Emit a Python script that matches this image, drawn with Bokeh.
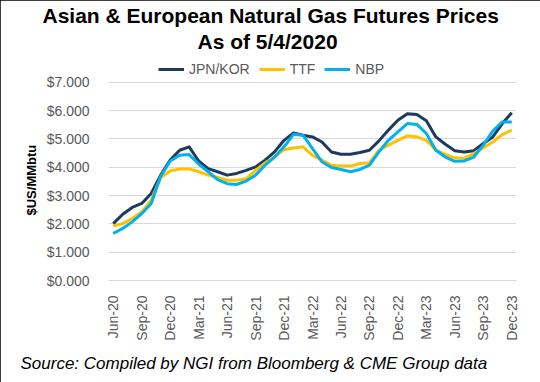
import math
from bokeh.plotting import figure
from bokeh.models import (FixedTicker, NumeralTickFormatter, Legend,
                          LegendItem, Range1d, Title)
from bokeh.embed import file_html
from bokeh.resources import INLINE

months = ["Jun-20", "Jul-20", "Aug-20", "Sep-20", "Oct-20", "Nov-20", "Dec-20",
          "Jan-21", "Feb-21", "Mar-21", "Apr-21", "May-21", "Jun-21", "Jul-21",
          "Aug-21", "Sep-21", "Oct-21", "Nov-21", "Dec-21", "Jan-22", "Feb-22",
          "Mar-22", "Apr-22", "May-22", "Jun-22", "Jul-22", "Aug-22", "Sep-22",
          "Oct-22", "Nov-22", "Dec-22", "Jan-23", "Feb-23", "Mar-23", "Apr-23",
          "May-23", "Jun-23", "Jul-23", "Aug-23", "Sep-23", "Oct-23", "Nov-23",
          "Dec-23"]

jpn_kor = [2.01, 2.34, 2.58, 2.72, 3.07, 3.72, 4.25, 4.60, 4.72, 4.22, 3.95,
           3.84, 3.72, 3.78, 3.89, 4.01, 4.25, 4.54, 4.95, 5.21, 5.13, 5.07,
           4.89, 4.54, 4.46, 4.46, 4.52, 4.60, 4.93, 5.31, 5.66, 5.89, 5.86,
           5.64, 5.07, 4.81, 4.58, 4.54, 4.58, 4.84, 5.07, 5.54, 5.92]
ttf = [1.92, 2.01, 2.19, 2.42, 2.84, 3.64, 3.87, 3.94, 3.94, 3.84, 3.72,
       3.64, 3.54, 3.54, 3.59, 3.89, 4.15, 4.36, 4.62, 4.68, 4.72, 4.42,
       4.25, 4.07, 4.04, 4.04, 4.13, 4.16, 4.60, 4.78, 4.95, 5.11, 5.07,
       4.95, 4.60, 4.45, 4.33, 4.31, 4.48, 4.69, 4.89, 5.15, 5.31]
nbp = [1.66, 1.84, 2.07, 2.36, 2.72, 3.68, 4.22, 4.42, 4.45, 4.11, 3.84,
       3.56, 3.42, 3.39, 3.51, 3.72, 4.07, 4.36, 4.72, 5.16, 5.13, 4.66,
       4.19, 3.99, 3.92, 3.84, 3.92, 4.07, 4.54, 4.95, 5.25, 5.54, 5.51,
       5.19, 4.60, 4.36, 4.21, 4.22, 4.36, 4.78, 5.28, 5.60, 5.60]

series_names = ["JPN/KOR", "TTF", "NBP"]
series_colors = ["#1F3A5F", "#FFC000", "#00B0F0"]
y_ticks = [0, 1, 2, 3, 4, 5, 6, 7]
x_tick_step = 3
title_line1 = "Asian & European Natural Gas Futures Prices"
title_line2 = "As of 5/4/2020"
source_text = "Source: Compiled by NGI from Bloomberg & CME Group data"
y_label = "$US/MMbtu"

FONT = "Liberation Sans"
x = list(range(len(months)))

# frame extends above the $7 line so the legend can sit inside it
p = figure(width=540, height=382, x_range=Range1d(-0.5, len(months) - 0.5),
           y_range=Range1d(0, 7.98), output_backend="svg",
           toolbar_location=None, title=None,
           min_border_left=108, min_border_right=24, min_border_top=54,
           min_border_bottom=102,
           styles={"outline": "3px solid black", "outline-offset": "-3px"})
p.outline_line_color = None
p.background_fill_color = "white"
p.border_fill_color = "white"

p.xgrid.visible = False
p.ygrid.ticker = FixedTicker(ticks=y_ticks)
p.ygrid.grid_line_color = "#D9D9D9"
p.ygrid.grid_line_width = 1

p.yaxis.ticker = FixedTicker(ticks=y_ticks)
p.yaxis.formatter = NumeralTickFormatter(format="$0.000")
p.yaxis.axis_line_color = None
p.yaxis.major_tick_line_color = None
p.yaxis.minor_tick_line_color = None
p.yaxis.major_label_text_font = FONT
p.yaxis.major_label_text_font_size = "14px"
p.yaxis.major_label_text_color = "#595959"
p.yaxis.major_label_standoff = 13

xt = list(range(0, len(months), x_tick_step))
p.xaxis.ticker = FixedTicker(ticks=xt)
p.xaxis.major_label_overrides = {i: months[i] for i in xt}
p.xaxis.major_label_orientation = math.pi / 2
p.xaxis.axis_line_color = "#D9D9D9"
p.xaxis.major_tick_line_color = None
p.xaxis.minor_tick_line_color = None
p.xaxis.major_label_text_font = FONT
p.xaxis.major_label_text_font_size = "14px"
p.xaxis.major_label_text_color = "#595959"
p.xaxis.major_label_standoff = 9

renderers = []
for vals, col in zip([jpn_kor, ttf, nbp], series_colors):
    r = p.line(x, vals, line_color=col, line_width=3, line_join="round")
    renderers.append(r)

legend = Legend(items=[LegendItem(label=n, renderers=[r])
                       for n, r in zip(series_names, renderers)],
                orientation="horizontal", location=(50, 203))
legend.margin = 0
legend.padding = 0
legend.spacing = 9
legend.label_standoff = 5
legend.glyph_width = 26
legend.glyph_height = 16
legend.label_height = 16
legend.label_text_font = FONT
legend.label_text_font_size = "14px"
legend.label_text_color = "#595959"
legend.border_line_color = None
legend.background_fill_alpha = 0
p.add_layout(legend, "center")

# titles stack outward from the frame: line 2 first, then line 1
p.add_layout(Title(text=title_line2, align="left", offset=89, standoff=3,
                   text_font=FONT, text_font_size="21px",
                   text_font_style="bold", text_color="black"), "above")
p.add_layout(Title(text=title_line1, align="left", offset=-66, standoff=0,
                   text_font=FONT, text_font_size="21px",
                   text_font_style="bold", text_color="black"), "above")

p.add_layout(Title(text=y_label, align="left", offset=65, standoff=10,
                   text_font=FONT, text_font_size="13px",
                   text_font_style="bold", text_color="black"), "left")

p.add_layout(Title(text=source_text, align="left", offset=-88, standoff=17,
                   text_font=FONT, text_font_size="17px",
                   text_font_style="italic", text_color="black"), "below")

open("out.html", "w").write(file_html(p, INLINE))
